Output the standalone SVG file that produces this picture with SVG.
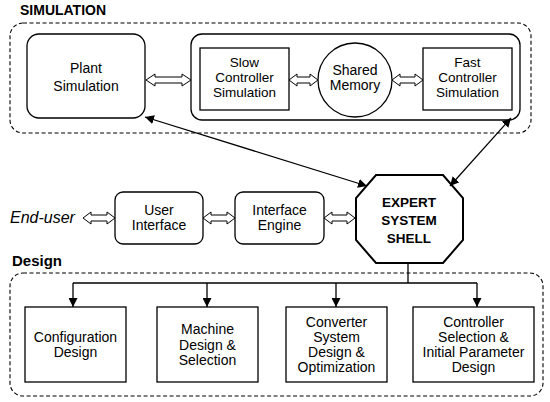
<svg xmlns="http://www.w3.org/2000/svg" width="550" height="402" viewBox="0 0 550 402">
<defs>
<style>
text{font-family:"Liberation Sans",Arial,sans-serif;font-size:14px;fill:#000;text-anchor:middle}
.s{font-size:13.5px}
.t{font-weight:bold;text-anchor:start;font-size:14px}
.b{font-weight:bold;font-size:13.5px}
.box{fill:#fff;stroke:#000;stroke-width:1.3}
.dash{fill:none;stroke:#000;stroke-width:1.1;stroke-dasharray:4,2.5}
.darr{fill:#fff;stroke:#000;stroke-width:1}
.ln{fill:none;stroke:#000;stroke-width:1.3}
</style>
<marker id="ah" viewBox="0 0 10 10" refX="10" refY="5" markerWidth="9" markerHeight="9" markerUnits="userSpaceOnUse" orient="auto-start-reverse">
<path d="M0,0 L10,5 L0,10 z" fill="#000"/>
</marker>
</defs>
<rect width="550" height="402" fill="#fff"/>
<text class="t" x="20" y="15">SIMULATION</text>
<rect class="dash" x="10" y="23" width="521" height="110" rx="13"/>
<text class="t" x="12" y="266" style="font-size:15px">Design</text>
<rect class="dash" x="10" y="273" width="533" height="123" rx="13"/>

<g id="plant">
<rect class="box" x="27" y="34" width="118" height="84" rx="12"/>
<text x="86" y="73">Plant</text>
<text x="86" y="91">Simulation</text>
</g>
<g id="controllers">
<rect class="box" x="191" y="34" width="329" height="86" rx="11"/>
</g>
<g id="slow">
<rect class="box" x="200" y="48" width="89" height="62"/>
<text class="s" x="244.5" y="67">Slow</text>
<text class="s" x="244.5" y="82">Controller</text>
<text class="s" x="244.5" y="97">Simulation</text>
</g>
<g id="shared">
<circle class="box" cx="355" cy="80" r="37"/>
<text x="355" y="75">Shared</text>
<text x="355" y="90">Memory</text>
</g>
<g id="fast">
<rect class="box" x="423" y="48" width="89" height="62"/>
<text class="s" x="467.5" y="67">Fast</text>
<text class="s" x="467.5" y="82">Controller</text>
<text class="s" x="467.5" y="97">Simulation</text>
</g>
<g id="enduser">
<text x="10" y="223" style="font-style:italic;font-size:16px;text-anchor:start">End-user</text>
</g>
<g id="ui">
<rect class="box" x="115" y="192" width="88" height="52" rx="8"/>
<text x="159" y="215">User</text>
<text x="159" y="230">Interface</text>
</g>
<g id="ie">
<rect class="box" x="235" y="192" width="89" height="52" rx="8"/>
<text x="279.5" y="215">Interface</text>
<text x="279.5" y="230">Engine</text>
</g>
<g id="shell">
<polygon class="box" style="stroke-width:2" points="376,175 443,175 463,198 463,240 443,263 376,263 356,240 356,198"/>
<text class="b" x="409" y="207">EXPERT</text>
<text class="b" x="409" y="225">SYSTEM</text>
<text class="b" x="409" y="243">SHELL</text>
</g>
<g id="config">
<rect class="box" x="25" y="307" width="101" height="75"/>
<text x="75.5" y="342">Configuration</text>
<text x="75.5" y="357">Design</text>
</g>
<g id="machine">
<rect class="box" x="157" y="307" width="101" height="75"/>
<text x="207.5" y="334">Machine</text>
<text x="207.5" y="350">Design &amp;</text>
<text x="207.5" y="365">Selection</text>
</g>
<g id="converter">
<rect class="box" x="286" y="307" width="101" height="75"/>
<text x="336.5" y="327">Converter</text>
<text x="336.5" y="342">System</text>
<text x="336.5" y="357">Design &amp;</text>
<text x="336.5" y="372">Optimization</text>
</g>
<g id="controller">
<rect class="box" x="413" y="307" width="121" height="75"/>
<text x="473.5" y="327">Controller</text>
<text x="473.5" y="342">Selection &amp;</text>
<text x="473.5" y="357">Initial Parameter</text>
<text x="473.5" y="372">Design</text>
</g>

<g id="connectors">
<polygon class="darr" points="146,80 155,74 155,77 182,77 182,74 191,80 182,86 182,83 155,83 155,86"/>
<polygon class="darr" points="289,80 297,74 297,77 310,77 310,74 318,80 310,86 310,83 297,83 297,86"/>
<polygon class="darr" points="392,80 400,74 400,77 415,77 415,74 423,80 415,86 415,83 400,83 400,86"/>
<polygon class="darr" points="83,218 91,212 91,215 107,215 107,212 115,218 107,224 107,221 91,221 91,224"/>
<polygon class="darr" points="203,218 211,212 211,215 227,215 227,212 235,218 227,224 227,221 211,221 211,224"/>
<polygon class="darr" points="324,218 332,212 332,215 347,215 347,212 355,218 347,224 347,221 332,221 332,224"/>
<line class="ln" x1="145" y1="117" x2="367" y2="186" marker-start="url(#ah)" marker-end="url(#ah)"/>
<line class="ln" x1="511" y1="118" x2="450" y2="186" marker-start="url(#ah)" marker-end="url(#ah)"/>
<path class="ln" d="M408,263 V283 M73,283 H477"/>
<line class="ln" x1="73" y1="283" x2="73" y2="307" marker-end="url(#ah)"/>
<line class="ln" x1="207" y1="283" x2="207" y2="307" marker-end="url(#ah)"/>
<line class="ln" x1="336" y1="283" x2="336" y2="307" marker-end="url(#ah)"/>
<line class="ln" x1="477" y1="283" x2="477" y2="307" marker-end="url(#ah)"/>
</g>
</svg>
